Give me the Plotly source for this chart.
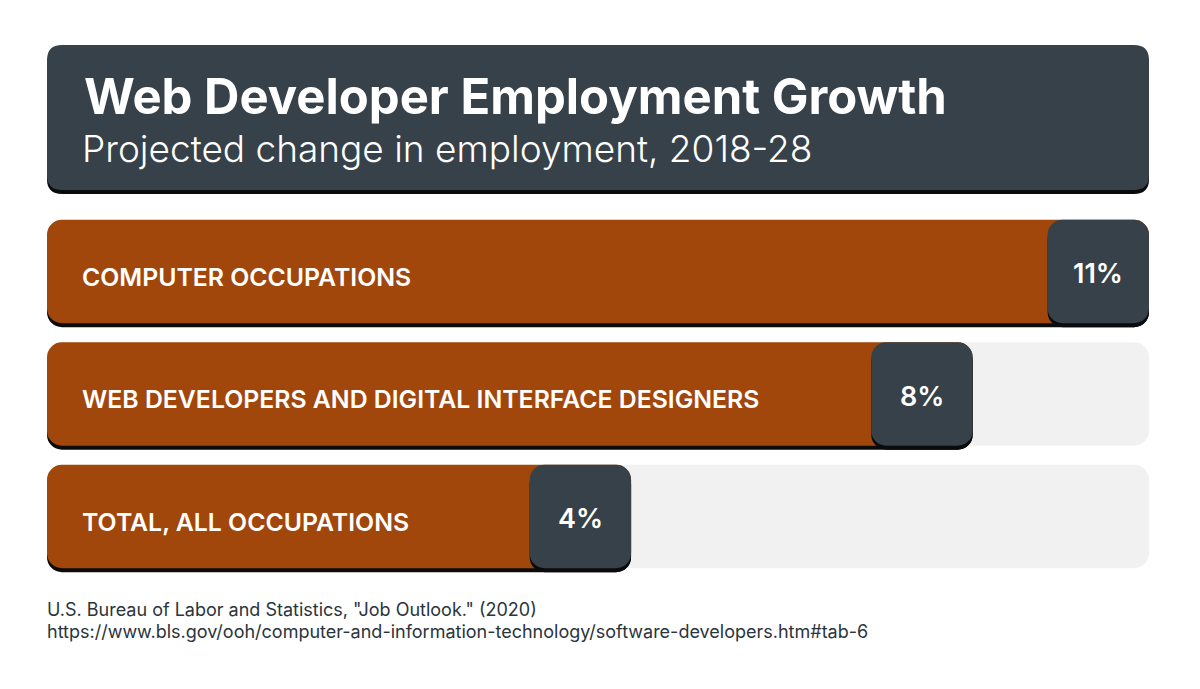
import plotly.graph_objects as go

# ---------------- data ----------------
categories = ["COMPUTER OCCUPATIONS",
              "WEB DEVELOPERS AND DIGITAL INTERFACE DESIGNERS",
              "TOTAL, ALL OCCUPATIONS"]
growth_pct = [11, 8, 4]                 # projected change, %
bar_extent = [100, 84, 53]              # drawn bar length, % of the track (infographic is not to scale)
track_extent = [100, 100, 100]
title = "Web Developer Employment Growth"
subtitle = "Projected change in employment, 2018-28"
source_lines = ['U.S. Bureau of Labor and Statistics, "Job Outlook." (2020)',
                "https://www.bls.gov/ooh/computer-and-information-technology/software-developers.htm#tab-6"]

# ---------------- style ----------------
W, H = 1200, 689
DARK = "#36414a"
ORANGE = "#a1470b"
TRACK = "#f1f1f1"
SHADOW = "#0b0b0b"
FONT = "Inter"
R = 15            # corner radius, px
BADGE = 9.2       # badge width in x units
BAR_W = 0.845     # bar thickness in y units
PX_PER_Y = 122.5
SH = 4 / PX_PER_Y # shadow offset (y units)

ypos = list(range(len(categories)))

fig = go.Figure()


def rounded_bar(starts, ends, y, color):
    fig.add_trace(go.Bar(orientation="h", y=y, base=starts,
                         x=[e - s for s, e in zip(starts, ends)],
                         width=BAR_W, marker=dict(color=color, cornerradius=R, line_width=0),
                         hoverinfo="skip", showlegend=False))


zeros = [0] * len(categories)
badge_start = [e - BADGE for e in bar_extent]
y_sh = [y + SH for y in ypos]

rounded_bar(zeros, track_extent, ypos, TRACK)          # grey track
rounded_bar(zeros, bar_extent, y_sh, SHADOW)           # bar shadow
rounded_bar(zeros, bar_extent, ypos, ORANGE)           # orange bar
rounded_bar(badge_start, bar_extent, y_sh, SHADOW)     # badge shadow
rounded_bar(badge_start, bar_extent, ypos, DARK)       # badge

annotations = []
for y, cat, pct, ext in zip(ypos, categories, growth_pct, bar_extent):
    annotations.append(dict(x=0, y=y, xref="x", yref="y", text=cat, showarrow=False,
                            xanchor="left", yanchor="middle", xshift=33, yshift=-5,
                            font=dict(family=FONT, size=24.8, color="white", weight=600)))
    annotations.append(dict(x=ext - BADGE / 2, y=y, xref="x", yref="y", text=f"{pct}%",
                            showarrow=False, xanchor="center", yanchor="middle", yshift=-2,
                            font=dict(family=FONT, size=27, color="white", weight=600)))


def rr_path(x0, y0, x1, y1, r):
    px = lambda v: v / W
    py = lambda v: 1 - v / H
    return (f"M{px(x0 + r)},{py(y0)} L{px(x1 - r)},{py(y0)} Q{px(x1)},{py(y0)} {px(x1)},{py(y0 + r)} "
            f"L{px(x1)},{py(y1 - r)} Q{px(x1)},{py(y1)} {px(x1 - r)},{py(y1)} "
            f"L{px(x0 + r)},{py(y1)} Q{px(x0)},{py(y1)} {px(x0)},{py(y1 - r)} "
            f"L{px(x0)},{py(y0 + r)} Q{px(x0)},{py(y0)} {px(x0 + r)},{py(y0)} Z")


shapes = [
    dict(type="path", xref="paper", yref="paper", path=rr_path(47, 49, 1149, 194, R),
         fillcolor=SHADOW, line_width=0, layer="below"),
    dict(type="path", xref="paper", yref="paper", path=rr_path(47, 45, 1149, 190, R),
         fillcolor=DARK, line_width=0, layer="below"),
]

annotations.append(dict(x=82 / W, y=1 - 128 / H, xref="paper", yref="paper", text=title,
                        showarrow=False, xanchor="left", yanchor="bottom",
                        font=dict(family=FONT, size=49, color="white", weight="bold")))
annotations.append(dict(x=80 / W, y=1 - 124 / H, xref="paper", yref="paper", text=subtitle,
                        showarrow=False, xanchor="left", yanchor="top",
                        font=dict(family=FONT, size=37, color="white", weight=300)))
for i, line in enumerate(source_lines):
    annotations.append(dict(x=45 / W, y=1 - (621.5 + 22 * i) / H, xref="paper", yref="paper",
                            text=line, showarrow=False, xanchor="left", yanchor="bottom",
                            font=dict(family=FONT, size=18, color="#2a343c")))

fig.update_layout(
    width=W, height=H, margin=dict(l=0, r=0, t=0, b=0),
    barmode="overlay", showlegend=False,
    plot_bgcolor="white", paper_bgcolor="white",
    xaxis=dict(domain=[47 / W, 1149 / W], range=[0, 100], visible=False, fixedrange=True),
    yaxis=dict(domain=[0, 1], range=[(H - 271.5) / PX_PER_Y, -271.5 / PX_PER_Y],
               visible=False, fixedrange=True),
    shapes=shapes, annotations=annotations,
)

fig.write_html("out.html")
